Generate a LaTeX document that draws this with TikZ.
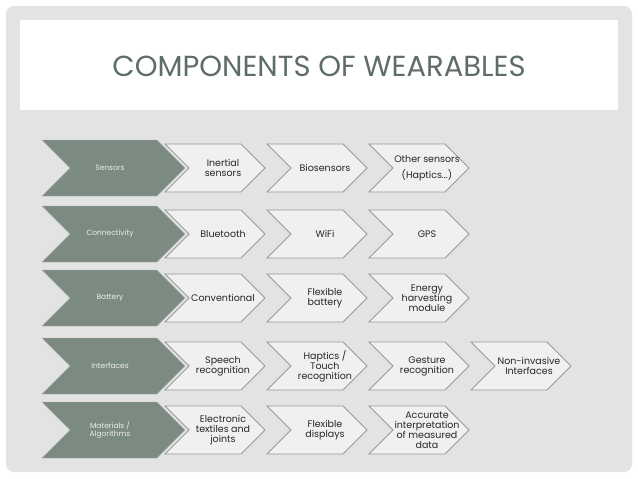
\documentclass[tikz,border=0pt]{standalone}
\usepackage{fontspec}
\setmainfont{Poppins}
\begin{document}
\begin{tikzpicture}[x=1pt,y=-1pt,
  lightc/.style={fill=gray!12, draw=gray!80, line width=0.8pt},
  dtext/.style={text=white!85!gray, font=\fontsize{7.5}{8.5}\selectfont, align=center},
  ltext/.style={text=black!85, font=\fontsize{9.5}{10}\selectfont, align=center}]
\definecolor{dk}{HTML}{7B8B82}
\definecolor{ttl}{HTML}{5F6D67}
\useasboundingbox (0,0) rectangle (638,479);
\fill[white] (0,0) rectangle (638,479);
\fill[gray!22, rounded corners=8pt] (6,6) rectangle (632,472);
\fill[white] (20,20) rectangle (618,110);
\node (title) at (319,66) {\fontsize{29}{32}\selectfont\color{ttl}COMPONENTS OF WEARABLES};
\newcommand\dchev[3]{% name, y center, text
  \fill[dk, draw=gray!60] (42,#2-28) -- (157,#2-28) -- (185,#2) -- (157,#2+28) -- (42,#2+28) -- (70,#2) -- cycle;
  \node[dtext] (#1) at (110,#2) {#3};}
\newcommand\lchev[4]{% name, x left, y center, text
  \draw[lightc] (#2,#3-24) -- (#2+76,#3-24) -- (#2+100,#3) -- (#2+76,#3+24) -- (#2,#3+24) -- (#2+24,#3) -- cycle;
  \node[ltext] (#1) at (#2+58,#3) {#4};}
\dchev{s}{168}{Sensors}
\lchev{s1}{165}{168}{Inertial\\sensors}
\lchev{s2}{267}{168}{Biosensors}
\lchev{s3}{369}{168}{Other sensors\\[6pt](Haptics...)}
\dchev{c}{234}{Connectivity}
\lchev{c1}{165}{234}{Bluetooth}
\lchev{c2}{267}{234}{WiFi}
\lchev{c3}{369}{234}{GPS}
\dchev{b}{298}{Battery}
\lchev{b1}{165}{298}{Conventional}
\lchev{b2}{267}{298}{Flexible\\battery}
\lchev{b3}{369}{298}{Energy\\harvesting\\module}
\dchev{i}{366}{Interfaces}
\lchev{i1}{165}{366}{Speech\\recognition}
\lchev{i2}{267}{366}{Haptics /\\Touch\\recognition}
\lchev{i3}{369}{366}{Gesture\\recognition}
\lchev{i4}{471}{366}{Non-invasive\\Interfaces}
\dchev{m}{430}{Materials /\\Algorithms}
\lchev{m1}{165}{430}{Electronic\\textiles and\\joints}
\lchev{m2}{267}{430}{Flexible\\displays}
\lchev{m3}{369}{430}{Accurate\\interpretation\\of measured\\data}
\end{tikzpicture}
\end{document}
